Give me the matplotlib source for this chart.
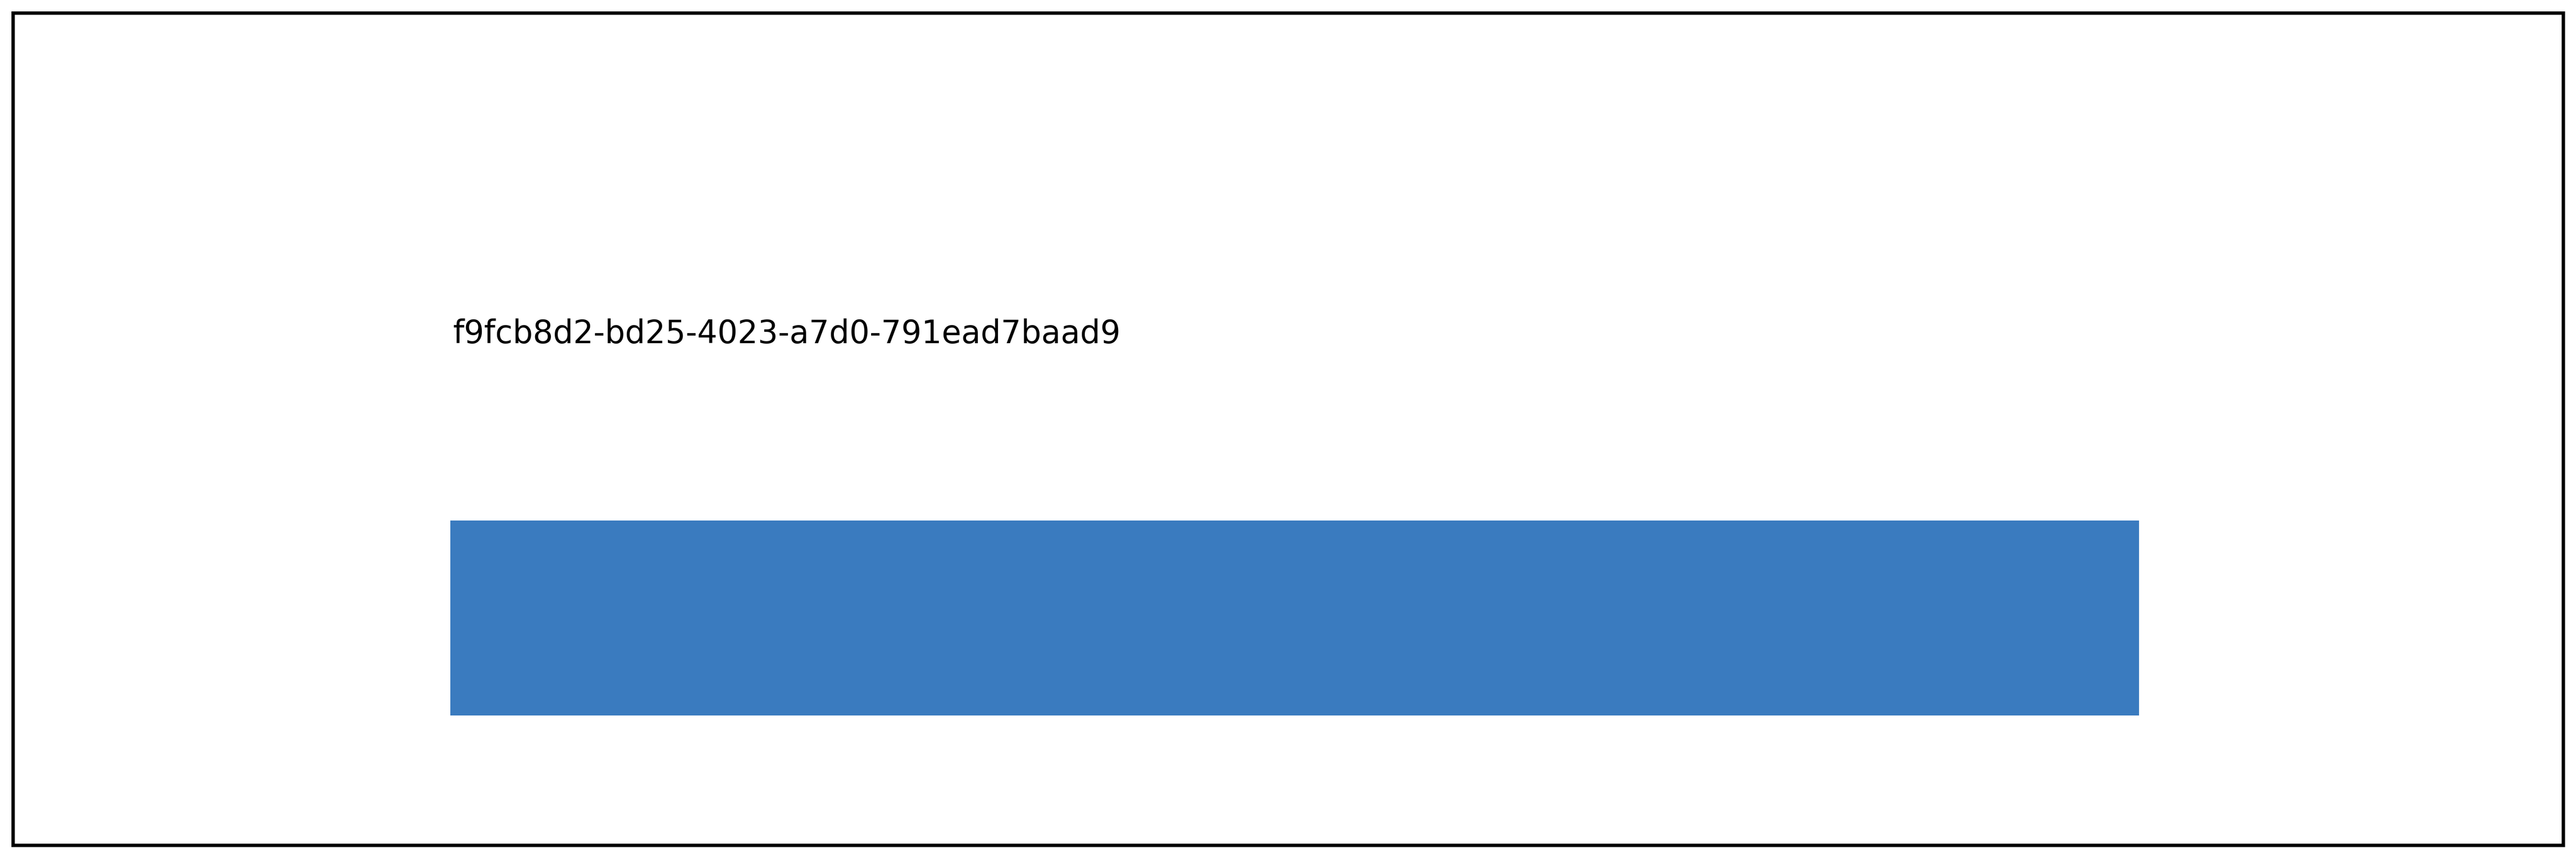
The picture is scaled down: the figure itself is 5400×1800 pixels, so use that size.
import matplotlib
matplotlib.use("Agg")
import matplotlib.pyplot as plt

# Data
labels = ["f9fcb8d2-bd25-4023-a7d0-791ead7baad9"]
values = [1.0]
bar_color = "#3a7bbf"

fig = plt.figure(figsize=(18, 6), dpi=300)
ax = fig.add_axes([27 / 5400, 27 / 1800, (5373 - 27) / 5400, (1773 - 27) / 1800])

positions = list(range(len(values)))
ax.barh(positions, values, height=1.0, left=0, color=bar_color)

for pos, lab in zip(positions, labels):
    ax.text(0.0017, pos + 1.41, lab, ha="left", va="baseline", fontsize=16,
            family="DejaVu Sans", color="black")

ax.set_xlim(-0.259, 1.2511)
ax.set_ylim(-1.1667, 3.107)
ax.set_xticks([])
ax.set_yticks([])
for s in ax.spines.values():
    s.set_linewidth(1.7)
    s.set_color("black")

fig.savefig("out.png", dpi=300, facecolor="white")
